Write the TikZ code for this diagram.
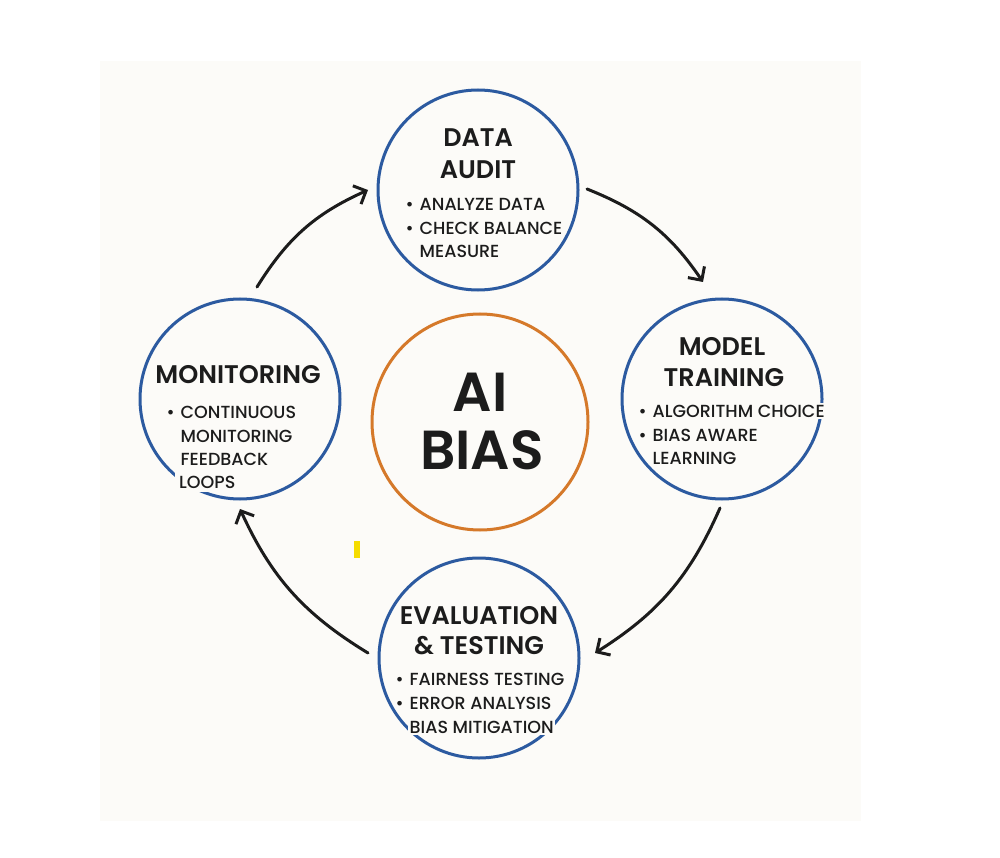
\documentclass[tikz,border=0pt]{standalone}
\usepackage{fontspec}
\setmainfont{Poppins}
\newfontfamily\headfont{Poppins SemiBold}
\newfontfamily\bodyfont{Poppins Medium}
\usetikzlibrary{arrows.meta}
\definecolor{bgcol}{HTML}{FCFBF8}
\definecolor{ringblue}{HTML}{2C5AA0}
\definecolor{ringorange}{HTML}{D5792A}
\definecolor{ink}{HTML}{1C1C1C}
\definecolor{yellowmark}{HTML}{F5DC00}
\tikzset{
  ring/.style={circle, draw=ringblue, line width=3pt, inner sep=0pt, minimum size=200pt},
  corering/.style={circle, draw=ringorange, line width=3pt, inner sep=0pt, minimum size=216pt},
  head/.style={text=ink, inner sep=0pt, font=\headfont\fontsize{25.5}{28}\selectfont},
  core/.style={text=ink, inner sep=0pt, font=\headfont\fontsize{55}{60}\selectfont},
  item/.style={text=ink, anchor=west, fill=bgcol, inner sep=1.5pt, font=\bodyfont\fontsize{17.5}{20}\selectfont},
  flow/.style={draw=ink, line width=3pt, line cap=round, -{Straight Barb[length=10pt,width=20pt,line width=3pt]}},
}
\newcommand{\bul}{\llap{\textbullet\kern6pt}}
\begin{document}
\begin{tikzpicture}[x=1pt,y=-1pt]
\useasboundingbox (0,0) rectangle (1000,858);
\fill[white] (0,0) rectangle (1000,858);
\fill[bgcol] (100,61) rectangle (861,821);

% rings
\node[ring] (audit) at (478,190) {};
\node[ring] (train) at (722,399) {};
\node[ring] (eval) at (479,658) {};
\node[ring] (mon) at (240,399) {};
\node[corering] (corec) at (480,422) {};

% core text
\node[core] (ai) at (480,392) {AI};
\node[core] (bias) at (482,450) {BIAS};

% data audit
\node[head] (auditA) at (478,138) {DATA};
\node[head] (auditB) at (478,170) {AUDIT};
\node[item] (auditC) at (418,204) {\bul ANALYZE DATA};
\node[item] (auditD) at (418,228) {\bul CHECK BALANCE};
\node[item] (auditE) at (418,251) {MEASURE};

% model training
\node[head] (trainA) at (722,347) {MODEL};
\node[head] (trainB) at (724,378) {TRAINING};
\node[item] (trainC) at (651,411) {\bul ALGORITHM CHOICE};
\node[item] (trainD) at (651,435) {\bul BIAS AWARE};
\node[item] (trainE) at (651,458) {LEARNING};

% evaluation
\node[head] (evalA) at (479,616) {EVALUATION};
\node[head] (evalB) at (479,646) {\& TESTING};
\node[item] (evalC) at (408,679) {\bul FAIRNESS TESTING};
\node[item] (evalD) at (408,703) {\bul ERROR ANALYSIS};
\node[item] (evalE) at (408,727) {BIAS MITIGATION};

% monitoring
\node[head] (monA) at (238,375) {MONITORING};
\node[item] (monB) at (179,412) {\bul CONTINUOUS};
\node[item] (monC) at (179,436) {MONITORING};
\node[item] (monD) at (179,459) {FEEDBACK};
\node[item, inner sep=4pt] (monE) at (175,482) {LOOPS};

% connectors
\coordinate (s1) at (257,287); \coordinate (e1) at (368,190);
\coordinate (s2) at (587,189); \coordinate (e2) at (703,282);
\coordinate (s3) at (720,508); \coordinate (e3) at (595,653);
\coordinate (s4) at (368,653); \coordinate (e4) at (240,509);
\draw[flow] (s1) to[bend left=17] (e1);
\draw[flow] (s2) to[bend left=17] (e2);
\draw[flow] (s3) to[bend left=17] (e3);
\draw[flow] (s4) to[bend left=17] (e4);

% yellow mark
\fill[yellowmark] (354,541) rectangle (360,558);
\end{tikzpicture}
\end{document}
